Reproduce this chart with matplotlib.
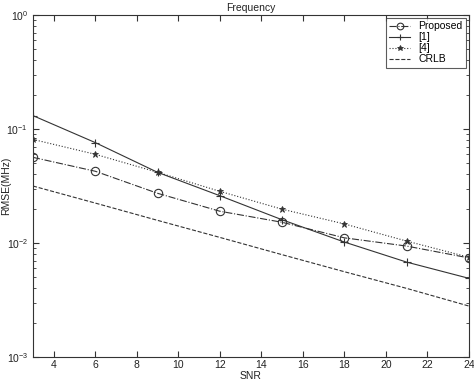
import matplotlib
matplotlib.use("Agg")
import matplotlib.pyplot as plt
import numpy as np

snr = [3, 6, 9, 12, 15, 18, 21, 24]
proposed = [0.0564, 0.0426, 0.0273, 0.019, 0.0152, 0.0111, 0.0094, 0.0074]
ref1 = [0.131, 0.076, 0.0417, 0.026, 0.016, 0.0102, 0.0068, 0.0049]
ref4 = [0.081, 0.060, 0.0417, 0.0284, 0.0198, 0.0147, 0.0104, 0.0075]
crlb = [0.0316, 0.0224, 0.0158, 0.0112, 0.0079, 0.0056, 0.0040, 0.0028]
xticks = [4, 6, 8, 10, 12, 14, 16, 18, 20, 22, 24]

plt.rcParams['font.family'] = ['Liberation Sans', 'DejaVu Sans']
plt.rcParams['font.size'] = 7.5

fig = plt.figure(figsize=(4.74, 3.82), dpi=100)
ax = fig.add_axes([0.0696, 0.0655, 0.9194, 0.8952])

lw = 0.8
ax.semilogy(snr, proposed, color='#333333', ls='-.', lw=lw, marker='o',
            mfc='none', ms=6, mew=0.8, label='Proposed')
ax.semilogy(snr, ref1, color='#333333', ls='-', lw=lw, marker='+',
            ms=6, mew=0.8, label='[1]')
ax.semilogy(snr, ref4, color='#333333', ls=':', lw=lw, marker='*',
            ms=5, mew=0.6, label='[4]')
ax.semilogy(snr, crlb, color='#333333', ls='--', lw=lw, label='CRLB')

ax.set_xlim(3, 24)
ax.set_ylim(1e-3, 1e0)
ax.set_xticks(xticks)
ax.tick_params(which='both', direction='in', top=True, right=True,
               colors='#333333', labelcolor='#222222')
ax.tick_params(which='major', length=4)
ax.tick_params(which='minor', length=2)
ax.tick_params(axis='x', pad=2)
for s in ax.spines.values():
    s.set_color('#333333')
    s.set_linewidth(0.8)

ax.set_title('Frequency', fontsize=7.5, pad=3, color='#222222')
ax.set_xlabel('SNR', fontsize=7.5, color='#222222')
ax.set_ylabel('RMSE(MHz)', fontsize=7.5, color='#222222')
ax.xaxis.set_label_coords(0.5, -0.041)
ax.yaxis.set_label_coords(-0.05, 0.5)

leg = ax.legend(loc='upper right', fontsize=7.5, frameon=True, fancybox=False,
                borderaxespad=0.3, handlelength=2.0, labelspacing=0.1,
                borderpad=0.3, markerscale=0.8)
leg.get_frame().set_edgecolor('#333333')
leg.get_frame().set_linewidth(0.8)

fig.savefig('out.png', dpi=100)
